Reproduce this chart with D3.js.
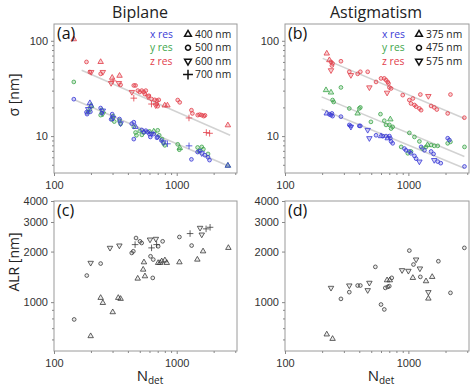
<!DOCTYPE html>
<html>
<head>
<meta charset="utf-8">
<script src="https://cdn.jsdelivr.net/npm/d3@7"></script>
<style>
  body { margin: 0; background: #fff; }
  svg { font-family: "Open Sans", sans-serif; }
</style>
</head>
<body>
<svg id="chart" width="474" height="386"></svg>
<script>
// [N_det, value, wavelength]
const biplaneZ = [[145,104,400],[184,60,500],[240,60,400],[196,47,500],[201,47,600],[240,45,500],[250,47,600],[298,41,400],[303,38,700],[292,36,600],[342,43,400],[338,36,600],[349,34.5,500],[447,34,500],[462,34,500],[431,29,600],[482,30,500],[500,29,500],[519,30,500],[539,29,500],[560,30,500],[550,27.6,500],[447,25,700],[592,26.5,500],[584,26,600],[623,24.5,500],[662,24,500],[688,23.5,500],[714,24,500],[675,21,600],[700,20.6,500],[688,21.7,500],[623,21.7,700],[799,21,400],[840,21,400],[1019,23.9,500],[1058,22.6,500],[1318,18.7,500],[1342,17.3,500],[1259,15.5,700],[1483,16.6,500],[1538,16.8,500],[1597,16.6,500],[1660,16.2,500],[1700,16.5,500],[2612,13,400],[1743,10.9,700],[1854,10.7,700]];
const biplaneY = [[145,37,500],[201,20.8,400],[196,19,500],[190,17.8,500],[245,18.8,500],[240,16.6,500],[250,17.2,600],[303,16.2,500],[298,15,500],[310,14.2,500],[342,14.5,500],[349,13.4,500],[447,12.5,500],[462,10.9,500],[500,11.3,500],[520,10.3,500],[539,10.9,500],[470,10.2,500],[600,11.2,500],[650,11.2,400],[700,11.5,500],[720,10.2,500],[760,9.3,500],[780,8.4,500],[800,8.0,500],[1019,8.2,500],[1060,7.5,400],[1050,7.2,500],[1480,7.6,500],[1520,7.0,500],[1600,7.7,500],[1650,7.3,500],[1800,6.5,500],[2612,4.9,400]];
const biplaneX = [[145,24.4,500],[196,22.2,400],[201,20.5,500],[190,19.2,600],[184,17.8,500],[186,17,500],[198,18,500],[240,19.7,500],[250,18.5,600],[245,17.4,500],[298,17,500],[303,15.5,600],[292,15,500],[342,15.1,500],[349,13.6,600],[447,14,500],[462,12.5,400],[430,13.5,500],[447,9.3,500],[519,11.6,500],[540,11,500],[560,11.4,500],[580,11,500],[600,10.5,500],[623,10.6,600],[650,10.5,500],[700,9.8,500],[610,9.8,500],[690,9.6,500],[750,9,500],[780,8.6,600],[840,8.3,700],[1260,7.9,700],[1318,5.7,500],[1480,6.8,500],[1550,7.0,500],[1600,6.6,600],[1700,6.3,500],[1800,6.0,500],[1850,5.6,500],[2612,4.9,400]];
const astigZ = [[218,73.6,375],[229,62.7,375],[236,60,475],[243,57.8,475],[240,55,475],[236,49,575],[284,61,475],[332,47.3,475],[342,43.6,575],[388,45,475],[408,47.3,475],[468,47.3,475],[483,32.4,575],[547,37,475],[600,40.3,475],[638,40.3,475],[659,38.7,475],[680,37,475],[690,35.7,475],[702,32.4,475],[724,31.6,475],[672,28.5,575],[900,26.9,475],[1018,23.9,475],[1050,22,475],[1087,24.8,475],[1120,21.2,475],[1155,20.4,475],[1228,19.5,475],[1268,18.7,475],[1250,27.3,475],[1452,26.3,575],[1528,20.7,475],[1620,20,475],[1700,19,475],[2083,17.3,475],[2193,27.3,475],[2843,15.6,475]];
const astigY = [[215,30.4,375],[236,28.7,375],[243,23.9,475],[248,22.8,475],[284,32.4,475],[332,19.5,475],[400,19.5,475],[388,17.3,375],[408,20,475],[497,14.1,475],[594,17,475],[638,14.5,475],[659,13.1,475],[714,15,375],[724,12,475],[746,12.5,475],[702,13.1,475],[874,7.7,475],[1018,10.8,475],[1120,9.8,475],[990,6.6,475],[1050,6.9,475],[1228,8.8,475],[1300,7.4,475],[1390,7.7,475],[1430,8.06,375],[1528,8.06,475],[1620,7.9,475],[1730,7.9,475],[2083,8.4,475],[2193,8.7,475],[2850,7.7,475]];
const astigX = [[218,17.3,375],[229,16.9,475],[236,16.6,475],[243,16.2,475],[240,17.3,475],[284,16,475],[332,13.1,475],[340,12.8,475],[342,12.5,575],[400,12.8,475],[408,12.8,475],[468,11.6,575],[483,9.5,575],[547,10.2,475],[600,10,375],[620,10,475],[659,10,475],[680,9.5,375],[702,10,475],[714,9.5,475],[724,8.8,475],[746,8.4,475],[929,7.4,475],[956,7.1,475],[1018,6.9,475],[1050,6.6,475],[1120,6.2,475],[1155,5.8,475],[1228,5.4,575],[1268,7.7,475],[1350,7.1,475],[1528,6.9,475],[1600,6.5,475],[1620,5.6,575],[1730,5.4,475],[1830,5.2,475],[2083,9.5,475],[2150,9.1,475],[2850,4.8,475]];
const biplaneALR = [[146,789,500],[185,1440,500],[199,1713,600],[199,628,400],[240,1697,500],[240,1061,400],[250,990,400],[286,2104,600],[301,872,400],[334,1061,400],[349,1047,400],[341,2172,600],[430,1963,500],[443,2008,500],[466,2409,500],[458,2200,700],[481,1382,400],[502,2301,500],[518,2250,500],[533,1563,400],[541,1728,400],[551,1427,400],[606,2357,600],[624,2104,700],[612,1875,500],[644,1793,500],[638,1394,500],[676,2380,600],[686,2200,700],[706,2150,500],[706,1713,400],[733,1713,400],[755,1752,400],[801,1776,400],[768,2302,500],[830,1713,400],[1052,2442,500],[1052,1728,400],[1285,2560,700],[1323,2172,500],[1473,1793,400],[1550,2767,600],[1600,2524,600],[1640,2008,400],[1735,2730,700],[1870,2790,700],[2637,2104,400]];
const astigALR = [[218,643,375],[243,605,375],[236,1216,575],[284,1046,475],[332,1147,475],[332,1256,575],[388,1256,475],[408,1256,475],[468,1178,575],[483,1303,575],[540,1622,475],[600,968,475],[638,905,475],[650,1216,475],[680,1233,475],[700,1245,475],[672,1351,375],[707,1351,375],[733,1395,475],[889,1549,575],[1000,1535,575],[1018,2027,475],[1100,1675,475],[1155,1793,575],[1087,1395,375],[1240,1585,575],[1250,1414,475],[1390,1333,375],[1452,1147,575],[1452,1051,375],[1560,1414,375],[1750,1752,475],[2193,1136,475],[2843,2104,475]];

const biplaneWavelengths = [400, 500, 600, 700];
const astigWavelengths = [375, 475, 575];
const resLabels = ["x res", "y res", "z res"];

// power-law fit lines, [N, σ] end points
const biplaneFitZ = [[168, 49], [2725, 10.2]];
const biplaneFitXY = [[148, 23.9], [2725, 4.77]];
const astigFitZ = [[202, 65.3], [2843, 15.3]];
const astigFitY = [[198, 25.8], [2843, 6.1]];
const astigFitX = [[198, 19.1], [2843, 4.6]];

const xTicks = [100, 1000];
const xMinor = [200, 300, 400, 500, 600, 700, 800, 900, 2000, 3000];
const sigmaTicks = [10, 100];
const sigmaMinor = [5, 6, 7, 8, 9, 20, 30, 40, 50, 60, 70, 80, 90];
const alrTicks = [1000, 2000, 3000, 4000];
const alrMinor = [600, 700, 800, 900];

const colors = { x: "#3b3bd6", y: "#3ea64c", z: "#e2404c" };
const svg = d3.select("#chart");

// shapes: up triangle, circle, down triangle, plus
const shapes = [
  { type: d3.symbolTriangle, rot: 0, size: 13 },
  { type: d3.symbolCircle, rot: 0, size: 11 },
  { type: d3.symbolTriangle, rot: 180, size: 13 },
  { type: d3.symbolPlus, rot: 0, size: 16 }
];

function panel(o) {
  const x = d3.scaleLog().domain([100, 3100]).range([o.left, o.right]);
  const y = d3.scaleLog().domain(o.yDomain).range([o.bottom, o.top]);
  const g = svg.append("g");

  // fit lines
  (o.fits || []).forEach(f => {
    g.append("path")
      .attr("d", d3.line().x(d => x(d[0])).y(d => y(d[1]))(f))
      .attr("stroke", "#d2d2d2").attr("stroke-width", 1.5).attr("fill", "none");
  });

  // points
  o.series.forEach(s => {
    g.append("g").selectAll("path")
      .data(s.data)
      .join("path")
      .attr("d", d => { const sh = shapes[o.wl.indexOf(d[2])]; return d3.symbol().type(sh.type).size(sh.size)(); })
      .attr("transform", d => { const sh = shapes[o.wl.indexOf(d[2])]; return `translate(${x(d[0])},${y(d[1])}) rotate(${sh.rot})`; })
      .attr("fill", s.fill).attr("fill-opacity", s.fillOpacity)
      .attr("stroke", s.stroke).attr("stroke-opacity", s.strokeOpacity).attr("stroke-width", 0.9);
  });

  // frame
  svg.append("rect")
    .attr("x", o.left).attr("y", o.top)
    .attr("width", o.right - o.left).attr("height", o.bottom - o.top)
    .attr("fill", "none").attr("stroke", "#9a9a9a").attr("stroke-width", 1);

  const axisStyle = sel => {
    sel.select(".domain").remove();
    sel.selectAll("line").attr("stroke", "#888");
    sel.selectAll("text").attr("font-family", "'Liberation Sans', Arial, sans-serif")
      .attr("font-size", 11).attr("fill", "#333");
  };

  svg.append("g").attr("transform", `translate(0,${o.bottom})`)
    .call(d3.axisBottom(x).tickValues(xTicks).tickFormat(d3.format("d")).tickSize(3).tickPadding(5))
    .call(axisStyle);
  svg.append("g").attr("transform", `translate(0,${o.bottom})`)
    .call(d3.axisBottom(x).tickValues(xMinor).tickFormat("").tickSize(2))
    .call(axisStyle);
  svg.append("g").attr("transform", `translate(${o.left},0)`)
    .call(d3.axisLeft(y).tickValues(o.yTicks).tickFormat(d3.format("d")).tickSize(3).tickPadding(3))
    .call(axisStyle);
  svg.append("g").attr("transform", `translate(${o.left},0)`)
    .call(d3.axisLeft(y).tickValues(o.yMinor).tickFormat("").tickSize(2))
    .call(axisStyle);

  svg.append("text").attr("x", o.left + 3).attr("y", o.top + 15)
    .attr("font-size", 16).attr("fill", "#111").text(o.label);
  return { x, y };
}

const rowGap = 13.4;
function resLegend(x0, y0) {
  resLabels.forEach((t, i) => {
    svg.append("text").attr("x", x0).attr("y", y0 + i * rowGap)
      .attr("font-size", 10.3).attr("fill", colors["xyz"[i]]).text(t);
  });
}
function shapeLegend(x0, y0, wl) {
  wl.forEach((w, i) => {
    const sh = shapes[i];
    svg.append("path")
      .attr("d", d3.symbol().type(sh.type).size(sh.type === d3.symbolPlus ? 34 : 20)())
      .attr("transform", `translate(${x0},${y0 + i * rowGap - 3.6}) rotate(${sh.rot})`)
      .attr("fill", "none").attr("stroke", "#111").attr("stroke-width", 1.5);
    svg.append("text").attr("x", x0 + 7).attr("y", y0 + i * rowGap)
      .attr("font-size", 10.3).attr("fill", "#222").text(`${w} nm`);
  });
}

const colStyle = c => ({ stroke: c, fill: c, fillOpacity: 0.25, strokeOpacity: 0.9 });
const grayStyle = { stroke: "#333", fill: "#999", fillOpacity: 0.2, strokeOpacity: 0.85 };

// (a)
panel({ left: 54, right: 237, top: 24, bottom: 173, yDomain: [4.1, 150],
  yTicks: sigmaTicks, yMinor: sigmaMinor, label: "(a)", wl: biplaneWavelengths,
  fits: [biplaneFitZ, biplaneFitXY],
  series: [
    { data: biplaneZ, ...colStyle(colors.z) },
    { data: biplaneY, ...colStyle(colors.y) },
    { data: biplaneX, ...colStyle(colors.x) }
  ] });
// (b)
panel({ left: 285, right: 469, top: 24, bottom: 173, yDomain: [4.1, 150],
  yTicks: sigmaTicks, yMinor: sigmaMinor, label: "(b)", wl: astigWavelengths,
  fits: [astigFitZ, astigFitY, astigFitX],
  series: [
    { data: astigZ, ...colStyle(colors.z) },
    { data: astigY, ...colStyle(colors.y) },
    { data: astigX, ...colStyle(colors.x) }
  ] });
// (c)
panel({ left: 54, right: 237, top: 201, bottom: 351, yDomain: [512, 4000],
  yTicks: alrTicks, yMinor: alrMinor, label: "(c)", wl: biplaneWavelengths,
  series: [{ data: biplaneALR, ...grayStyle }] });
// (d)
panel({ left: 285, right: 469, top: 201, bottom: 351, yDomain: [512, 4000],
  yTicks: alrTicks, yMinor: alrMinor, label: "(d)", wl: astigWavelengths,
  series: [{ data: astigALR, ...grayStyle }] });

resLegend(150, 38);
shapeLegend(188, 38, biplaneWavelengths);
resLegend(382, 38);
shapeLegend(419, 38, astigWavelengths);

// titles and axis labels
svg.append("text").attr("x", 140).attr("y", 18).attr("text-anchor", "middle")
  .attr("font-size", 16).attr("fill", "#222").text("Biplane");
svg.append("text").attr("x", 376).attr("y", 18).attr("text-anchor", "middle")
  .attr("font-size", 16).attr("fill", "#222").text("Astigmatism");

svg.append("text").attr("transform", "translate(19,95) rotate(-90)").attr("text-anchor", "middle")
  .attr("font-size", 14).attr("fill", "#222").text("σ [nm]");
svg.append("text").attr("transform", "translate(19,262) rotate(-90)").attr("text-anchor", "middle")
  .attr("font-size", 14).attr("fill", "#222").text("ALR [nm]");

[150, 381].forEach(cx => {
  const t = svg.append("text").attr("x", cx).attr("y", 381).attr("text-anchor", "middle")
    .attr("font-size", 15).attr("fill", "#222");
  t.append("tspan").text("N");
  t.append("tspan").attr("font-size", 10).attr("dy", 3).text("det");
});
</script>
</body>
</html>
